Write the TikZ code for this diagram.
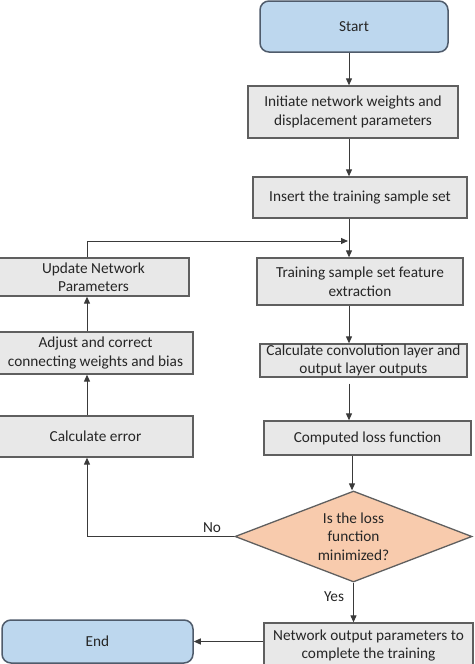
\documentclass[tikz,border=0pt]{standalone}
\usepackage{fontspec}
\setmainfont{Carlito}
\usetikzlibrary{shapes.geometric,arrows.meta}
\definecolor{boxfill}{HTML}{E8E8E8}
\definecolor{boxline}{HTML}{5F5F5F}
\definecolor{bluefill}{HTML}{BDD7EE}
\definecolor{blueline}{HTML}{4F5B6B}
\definecolor{orfill}{HTML}{F8CBAD}
\definecolor{txt}{HTML}{262626}
\definecolor{lin}{HTML}{3A3A3A}
\tikzset{
  x=1pt, y=-1pt,
  every node/.style={font=\fontsize{15.3}{18.5}\selectfont, text=txt, align=center, inner sep=0pt},
  procbox/.style={draw=boxline, fill=boxfill, line width=1.3pt, rectangle},
  termbox/.style={draw=blueline, fill=bluefill, line width=1.5pt, rectangle, rounded corners=9pt},
  decbox/.style={draw=boxline, fill=orfill, line width=1.3pt, diamond, aspect=2.6},
  arr/.style={draw=lin, line width=1pt, -{Triangle[length=7pt,width=6pt]}},
  lbl/.style={font=\fontsize{15.3}{18}\selectfont}
}
\begin{document}
\begin{tikzpicture}
\useasboundingbox (0,0) rectangle (474,664);
\clip (0,0) rectangle (474,664);
\node[termbox, minimum width=188pt, minimum height=51pt] (start) at (354,26.5) {Start};
\node[procbox, minimum width=210pt, minimum height=52pt] (init) at (353,112) {Initiate network weights and\\displacement parameters};
\node[procbox, minimum width=214pt, minimum height=41pt] (insert) at (360,197.5) {Insert the training sample set};
\node[procbox, minimum width=206pt, minimum height=47pt] (feat) at (360,281.5) {Training sample set feature\\extraction};
\node[procbox, minimum width=191pt, minimum height=38pt] (update) at (93.5,277) {Update Network\\Parameters};
\node[procbox, minimum width=195pt, minimum height=42pt] (adjust) at (95.5,353) {Adjust and correct\\connecting weights and bias};
\node[procbox, minimum width=207pt, minimum height=33pt] (conv) at (363.5,360.5) {Calculate convolution layer and\\output layer outputs};
\node[procbox, minimum width=207pt, minimum height=34pt] (loss) at (367.5,438) {Computed loss function};
\node[procbox, minimum width=195pt, minimum height=41pt] (err) at (95.5,436.5) {Calculate error};
\node[decbox, minimum width=237pt, minimum height=91pt] (dec) at (353.5,536.5) {Is the loss\\function\\minimized?};
\node[procbox, minimum width=209pt, minimum height=45pt] (out) at (368.5,645.5) {Network output parameters to\\complete the training};
\node[termbox, minimum width=191pt, minimum height=43pt] (end) at (97.5,641.5) {End};
\coordinate (mx) at (349,0);
\coordinate (lx) at (87,0);
\coordinate (fb) at (348,241);
\coordinate (lossx) at (352,0);
\coordinate (decx) at (353.5,0);
\draw[arr] (start.south -| mx) -- (init.north -| mx);
\draw[arr] (init.south -| mx) -- (insert.north -| mx);
\draw[arr] (insert.south -| mx) -- (feat.north -| mx);
\draw[arr] (feat.south -| mx) -- (conv.north -| mx);
\draw[arr] (conv.south -| mx) ++(0,6) -- (loss.north -| mx);
\draw[arr] (loss.south -| lossx) -- (dec.north -| lossx);
\draw[arr] (dec.south) -- (out.north -| decx);
\draw[arr] (out.west |- end) -- (end.east);
\draw[arr] (dec.west) -| (err.south -| lx);
\draw[arr] (err.north -| lx) -- (adjust.south -| lx);
\draw[arr] (adjust.north -| lx) -- (update.south -| lx);
\draw[arr] (update.north -| lx) |- (fb);
\node[lbl] (no) at (212,528) {No};
\node[lbl] (yes) at (334,597) {Yes};
\end{tikzpicture}
\end{document}
